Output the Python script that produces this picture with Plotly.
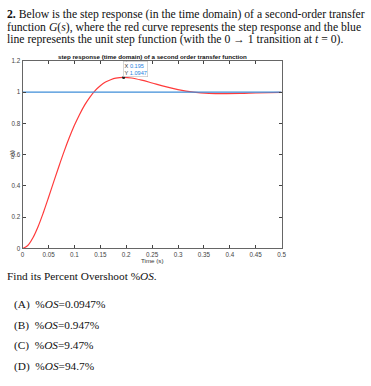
import plotly.graph_objects as go

# data
t_vals = [0, 0.01, 0.02, 0.03, 0.04, 0.05, 0.06, 0.07, 0.08, 0.09, 0.10, 0.11, 0.12, 0.13,
          0.14, 0.15, 0.16, 0.17, 0.18, 0.195, 0.21, 0.23, 0.25, 0.27, 0.30, 0.33, 0.36,
          0.39, 0.42, 0.45, 0.50]
c_vals = [0, 0.019, 0.069, 0.141, 0.229, 0.326, 0.426, 0.525, 0.620, 0.708, 0.788, 0.858,
          0.919, 0.969, 1.010, 1.041, 1.065, 1.080, 1.090, 1.0947, 1.091, 1.077, 1.059,
          1.040, 1.017, 1.001, 0.993, 0.991, 0.992, 0.995, 0.999]
step_t = [0, 0.5]
step_v = [1, 1]
peak_t = 0.195
peak_v = 1.0947
x_ticks = [0, 0.05, 0.1, 0.15, 0.2, 0.25, 0.3, 0.35, 0.4, 0.45, 0.5]
x_labels = ["0", "0.05", "0.1", "0.15", "0.2", "0.25", "0.3", "0.35", "0.4", "0.45", "0.5"]
y_ticks = [0, 0.2, 0.4, 0.6, 0.8, 1, 1.2]
y_labels = ["0", "0.2", "0.4", "0.6", "0.8", "1", "1.2"]

W, H = 371, 386
x0, x1 = 21, 285
ytop, ybot = 58, 249

fig = go.Figure()
fig.add_trace(go.Scatter(x=t_vals, y=c_vals, mode="lines", line=dict(color="#ff3b3b", width=1.2, shape="spline"),
                         hoverinfo="skip", showlegend=False))
fig.add_trace(go.Scatter(x=step_t, y=step_v, mode="lines", line=dict(color="#3f8ed8", width=1.2),
                         hoverinfo="skip", showlegend=False))
fig.add_trace(go.Scatter(x=[peak_t], y=[peak_v], mode="markers", marker=dict(color="#222", size=3),
                         hoverinfo="skip", showlegend=False))

axis_common = dict(showgrid=False, zeroline=False, ticks="inside", ticklen=3, tickwidth=0.8,
                   tickcolor="#444", showline=True, linecolor="#666", linewidth=1, mirror="ticks",
                   tickfont=dict(family="Liberation Sans", size=6.3, color="#444"), fixedrange=True)

fig.update_layout(
    width=W, height=H, margin=dict(l=0, r=0, t=0, b=0),
    paper_bgcolor="white", plot_bgcolor="white",
    xaxis=dict(range=[0, 0.5], domain=[x0 / W, x1 / W], tickvals=x_ticks, ticktext=x_labels, **axis_common),
    yaxis=dict(range=[0, 1.2], domain=[1 - ybot / H, 1 - ytop / H], tickvals=y_ticks, ticktext=y_labels, **axis_common),
)

serif = "Liberation Serif"
fs = 11.3
header = [
    "<b>2.</b> Below is the step response (in the time domain) of a second-order transfer",
    "function <i>G</i>(<i>s</i>), where the red curve represents the step response and the blue",
    "line represents the unit step function (with the 0 → 1 transition at <i>t</i> = 0).",
]
for i, line in enumerate(header):
    fig.add_annotation(xref="paper", yref="paper", x=3 / W, y=1 - (11 + 12.8 * i) / H, text=line,
                       showarrow=False, xanchor="left", yanchor="middle",
                       font=dict(family=serif, size=11.7, color="#111"))

fig.add_annotation(xref="paper", yref="paper", x=((x0 + x1) / 2) / W, y=1 - 53 / H,
                   text="<b>step response (time domain) of a second order transfer function</b>",
                   showarrow=False, xanchor="center", yanchor="middle",
                   font=dict(family="Liberation Sans", size=6.2, color="#111"))
fig.add_annotation(xref="paper", yref="paper", x=((x0 + x1) / 2) / W, y=1 - 261 / H,
                   text="Time (s)", showarrow=False, xanchor="center", yanchor="middle",
                   font=dict(family="Liberation Sans", size=6.2, color="#333"))
fig.add_annotation(xref="paper", yref="paper", x=9 / W, y=1 - 153 / H,
                   text="c(t)", showarrow=False, textangle=-90, xanchor="center", yanchor="middle",
                   font=dict(family="Liberation Sans", size=6.2, color="#333"))

# data tip
fig.add_annotation(x=peak_t, y=peak_v, xref="x", yref="y",
                   text="X <span style='color:#1f7fe0'>0.195</span><br>Y <span style='color:#1f7fe0'>1.0947</span>",
                   showarrow=False, xanchor="left", yanchor="bottom", xshift=-1, yshift=0,
                   align="left", bgcolor="white", bordercolor="#bbb", borderwidth=0.6, borderpad=1,
                   font=dict(family="Liberation Sans", size=5.6, color="#333"))

fig.add_annotation(xref="paper", yref="paper", x=3 / W, y=1 - 277 / H,
                   text="Find its Percent Overshoot %<i>OS</i>.", showarrow=False,
                   xanchor="left", yanchor="middle", font=dict(family=serif, size=fs, color="#111"))
opts = [("(A)", "0.0947%"), ("(B)", "0.947%"), ("(C)", "9.47%"), ("(D)", "94.7%")]
for i, (lab, val) in enumerate(opts):
    fig.add_annotation(xref="paper", yref="paper", x=10 / W, y=1 - (306 + 21 * i) / H,
                       text=f"{lab}  %<i>OS</i>={val}", showarrow=False,
                       xanchor="left", yanchor="middle", font=dict(family=serif, size=fs, color="#111"))

fig.write_html("out.html")
